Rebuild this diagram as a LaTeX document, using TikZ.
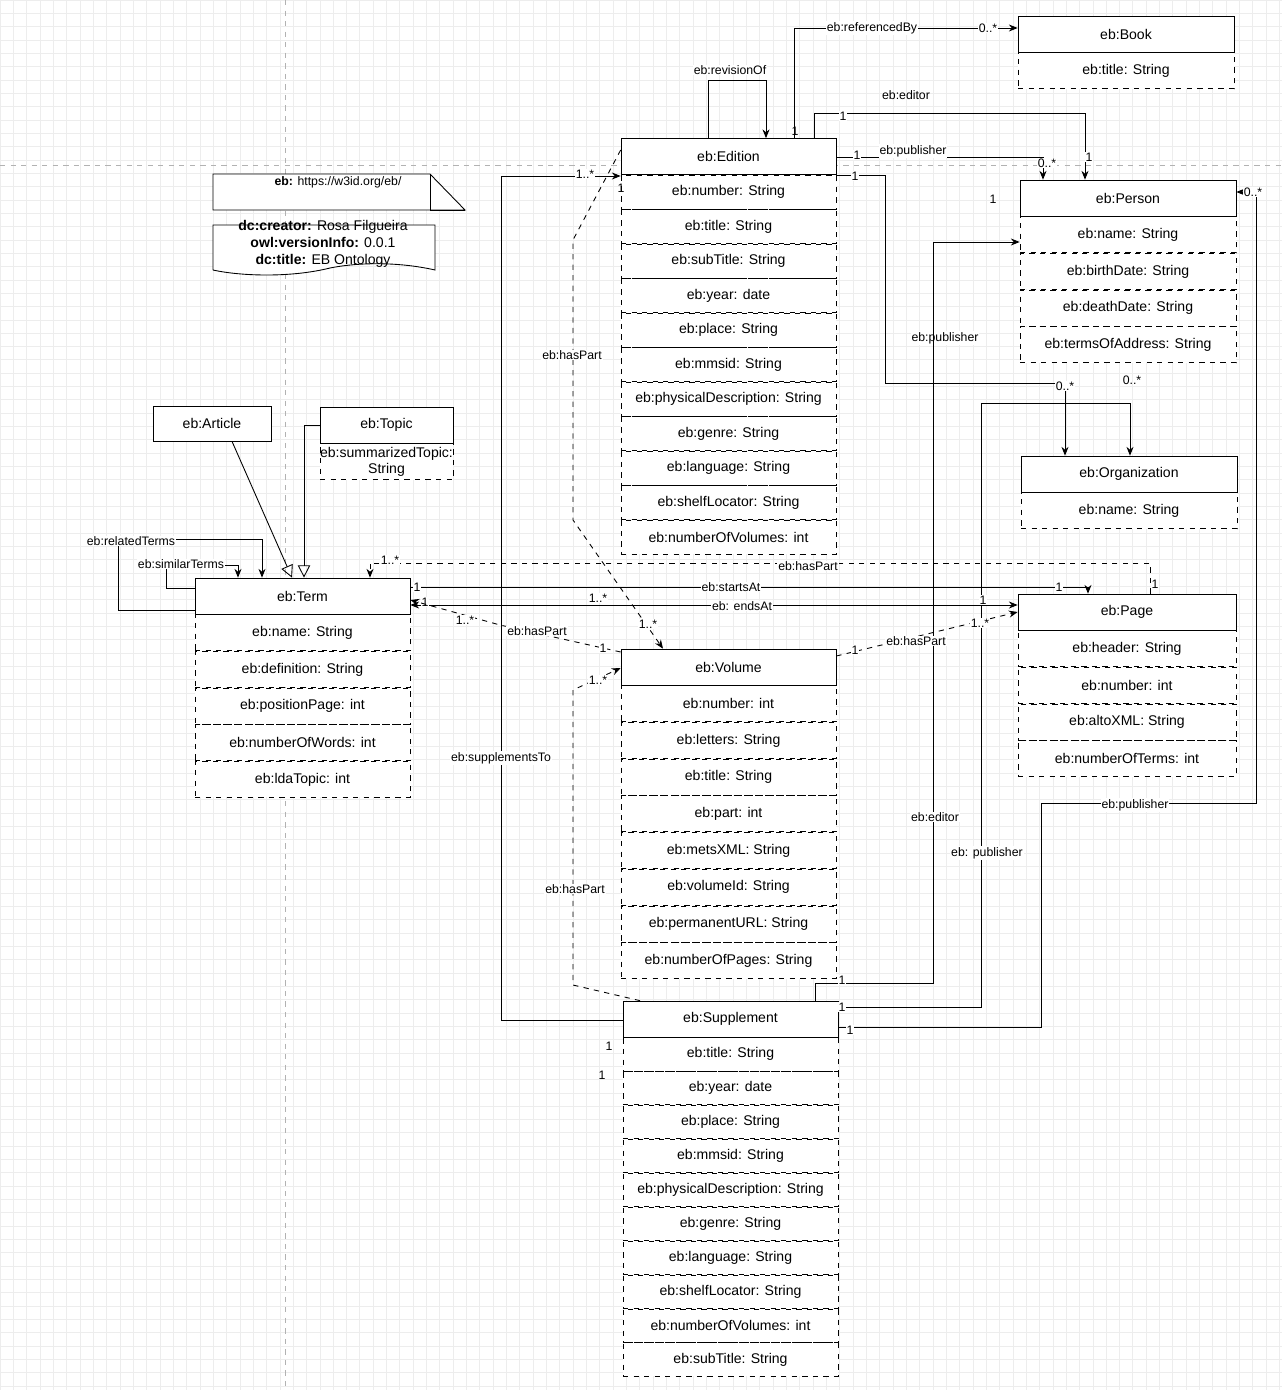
\documentclass[tikz,border=0pt]{standalone}
\usepackage{fontspec}
\setmainfont{Liberation Sans}
\usetikzlibrary{arrows.meta,positioning,calc}

\tikzset{
  cls/.style={draw, fill=white, inner sep=0pt, minimum height=0.72cm, font=\fontsize{8}{9}\selectfont},
  attr/.style={draw, dashed, fill=white, inner sep=0pt, font=\fontsize{8}{9}\selectfont},
  assoc/.style={-{Stealth[length=5pt,width=4pt]}, line width=0.5pt},
  part/.style={assoc, dashed},
  isa/.style={-{Triangle[open,length=7pt,width=7pt]}, line width=0.5pt},
  lbl/.style={fill=white, inner sep=0.5pt, font=\fontsize{7}{8}\selectfont},
}
% attribute rows stacked under a class header named #10
\newcommand\umlattrs[4]{%
  \foreach \a [count=\i, remember=\i as \p (initially 0)] in {#4}{%
    \node[attr, minimum width=#2, minimum height=#3, below=0pt of #1\p] (#1\i) {\a};}}

\begin{document}
\begin{tikzpicture}[x=0.02cm, y=-0.02cm]
  \useasboundingbox (0,0) rectangle (1282,1390);
  % background grid and page breaks
  \draw[gray!14, step=0.2666cm] (0,0) grid (1282,1390);
  \draw[gray!60, dashed] (285,0) -- (285,1390);
  \draw[gray!60, dashed] (0,165) -- (1282,165);

  % notes
  \draw[fill=white, line width=0.5pt] (213,174) -- (430,174) -- (465,210) -- (213,210) -- cycle;
  \draw[line width=0.5pt] (430,174) -- (430,210) -- (465,210);
  \node[lbl, fill=none] (ns) at (338,182) {\textbf{eb:} https://w3id.org/eb/};
  \draw[fill=white, line width=0.5pt] (213,270) -- (213,225) -- (435,225) -- (435,270)
     .. controls (400,262) and (360,262) .. (330,268) .. controls (290,278) and (240,276) .. (213,270);
  \node[lbl, fill=none, align=center, font=\fontsize{8}{9.5}\selectfont] (meta) at (323,244)
     {\textbf{dc:creator:} Rosa Filgueira\\\textbf{owl:versionInfo:} 0.0.1\\\textbf{dc:title:} EB Ontology};

  % classes
  \node[cls, minimum width=4.3cm] (ed0) at (728.5,156.5) {eb:Edition};
  \umlattrs{ed}{4.3cm}{0.676cm}{eb:number: String,eb:title: String,eb:subTitle: String,eb:year: date,eb:place: String,eb:mmsid: String,eb:physicalDescription: String,eb:genre: String,eb:language: String,eb:shelfLocator: String,eb:numberOfVolumes: int}
  \node[cls, minimum width=4.32cm] (bk0) at (1126,34) {eb:Book};
  \umlattrs{bk}{4.32cm}{0.72cm}{eb:title: String}
  \node[cls, minimum width=4.32cm] (pe0) at (1128,198) {eb:Person};
  \umlattrs{pe}{4.32cm}{0.72cm}{eb:name: String,eb:birthDate: String,eb:deathDate: String,eb:termsOfAddress: String}
  \node[cls, minimum width=4.32cm] (or0) at (1129,474) {eb:Organization};
  \umlattrs{or}{4.32cm}{0.72cm}{eb:name: String}
  \node[cls, minimum width=4.36cm] (pg0) at (1127,612) {eb:Page};
  \umlattrs{pg}{4.36cm}{0.72cm}{eb:header: String,eb:number: int,eb:altoXML: String,eb:numberOfTerms: int}
  \node[cls, minimum width=4.3cm] (tm0) at (302.5,596) {eb:Term};
  \umlattrs{tm}{4.3cm}{0.72cm}{eb:name: String,eb:definition: String,eb:positionPage: int,eb:numberOfWords: int,eb:ldaTopic: int}
  \node[cls, minimum width=4.3cm] (vo0) at (728.5,667) {eb:Volume};
  \umlattrs{vo}{4.3cm}{0.72cm}{eb:number: int,eb:letters: String,eb:title: String,eb:part: int,eb:metsXML: String,eb:volumeId: String,eb:permanentURL: String,eb:numberOfPages: String}
  \node[cls, minimum width=4.3cm] (su0) at (730.5,1019) {eb:Supplement};
  \umlattrs{su}{4.3cm}{0.664cm}{eb:title: String,eb:year: date,eb:place: String,eb:mmsid: String,eb:physicalDescription: String,eb:genre: String,eb:language: String,eb:shelfLocator: String,eb:numberOfVolumes: int,eb:subTitle: String}
  \node[cls, minimum width=2.36cm, minimum height=0.7cm] (ar0) at (212,423.5) {eb:Article};
  \node[cls, minimum width=2.66cm] (tp0) at (386.5,425) {eb:Topic};
  \node[attr, minimum width=2.66cm, minimum height=0.72cm, align=center, below=0pt of tp0,
        font=\fontsize{8}{9}\selectfont] (tp1) {eb:summarizedTopic:\\String};

  % Edition links
  \draw[assoc] (708,0 |- ed0.north) -- (708,80) -- (766,80) -- (766,0 |- ed0.north);
  \node[lbl] at (730,70) {eb:revisionOf};
  \draw[assoc] (794,0 |- ed0.north) |- (bk0.west |- 0,28);
  \node[lbl] at (872,28) {eb:referencedBy};
  \node[lbl] at (988,28) {0..*};
  \node[lbl, fill=none] at (795,131) {1};
  \draw[assoc] (814,0 |- ed0.north) |- (1085,113) -- (1085,0 |- pe0.north);
  \node[lbl, fill=none] at (906,95) {eb:editor};
  \node[lbl] at (843,116) {1};
  \node[lbl] at (1089,157) {1};
  \draw[assoc] (ed0.east |- 0,157) -| (1043,0 |- pe0.north);
  \node[lbl] at (857,155) {1};
  \node[lbl] at (913,151) {eb:publisher};
  \node[lbl] at (1047,163) {0..*};
  \draw[assoc] (ed0.east |- 0,175) -| (885,383) -| (1065,0 |- or0.north);
  \node[lbl] at (855,176) {1};
  \node[lbl] at (945,338) {eb:publisher};
  \node[lbl] at (1065,386) {0..*};
  \node[lbl, fill=none] at (993,199) {1};

  % Supplement links
  \draw[assoc] (su0.east |- 0,1027) -| (1041,803) -| (1256,192) -- (pe0.east |- 0,192);
  \node[lbl] at (1135,805) {eb:publisher};
  \node[lbl] at (1253,192) {0..*};
  \node[lbl] at (850,1030) {1};
  \draw[assoc] (815,0 |- su0.north) |- (933,983) |- (pe0.west |- 0,242);
  \node[lbl] at (935,817) {eb:editor};
  \node[lbl] at (842,980) {1};
  \draw[assoc] (su0.east |- 0,1007) -| (981,403) -| (1130,0 |- or0.north);
  \node[lbl] at (987,853) {eb: publisher};
  \node[lbl] at (842,1007) {1};
  \node[lbl, fill=none] at (1132,380) {0..*};
  \draw[assoc] (su0.west |- 0,1020) -| (501,176) -- (ed0.west |- 0,176);
  \node[lbl] at (501,758) {eb:supplementsTo};
  \node[lbl] at (585,174) {1..*};
  \node[lbl, fill=none] at (621,188) {1};
  \node[lbl, fill=none] at (609,1046) {1};
  \node[lbl, fill=none] at (602,1075) {1};

  % Term and Page links
  \draw[assoc] (tm0.east |- 0,587) -| (1088,0 |- pg0.north);
  \node[lbl] at (731,587) {eb:startsAt};
  \node[lbl] at (417,587) {1};
  \node[lbl] at (1059,587) {1};
  \draw[assoc, {Stealth[length=5pt,width=4pt]}-{Stealth[length=5pt,width=4pt]}] (tm0.east |- 0,605) -- (pg0.west |- 0,605);
  \node[lbl] at (742,606) {eb: endsAt};
  \node[lbl] at (598,598) {1..*};
  \node[lbl] at (983,600) {1};
  \node[lbl] at (425,602) {1};
  \draw[part] (1150,0 |- pg0.north) |- (370,563) -- (370,0 |- tm0.north);
  \node[lbl] at (808,566) {eb:hasPart};
  \node[lbl] at (390,560) {1..*};
  \node[lbl] at (1155,584) {1};

  % hasPart links
  \draw[part] (vo0.east |- 0,656) -- (pg0.west |- 0,612);
  \node[lbl] at (916,641) {eb:hasPart};
  \node[lbl] at (855,650) {1};
  \node[lbl] at (980,623) {1..*};
  \draw[part] (vo0.west |- 0,652) -- (500,625) -- (tm0.east |- 0,600);
  \node[lbl] at (537,631) {eb:hasPart};
  \node[lbl] at (603,648) {1};
  \node[lbl] at (465,620) {1..*};
  \draw[part] (ed0.west |- 0,150) -- (573,240) -- (573,520) -- (663,0 |- vo0.north);
  \node[lbl] at (572,355) {eb:hasPart};
  \node[lbl] at (648,624) {1..*};
  \draw[part] (640,0 |- su0.north) -- (573,985) -- (573,690) -- (vo0.west |- 0,668);
  \node[lbl] at (575,889) {eb:hasPart};
  \node[lbl] at (598,680) {1..*};

  % Term hierarchy and self links
  \draw[isa] (ar0.south -| 232,0) -- (292,0 |- tm0.north);
  \draw[isa] (tp0.west) -- (304,0 |- tp0.west) -- (304,0 |- tm0.north);
  \draw[assoc] (tm0.west |- 0,610) -| (118,539) -| (262,0 |- tm0.north);
  \node[lbl] at (131,541) {eb:relatedTerms};
  \draw[assoc] (tm0.west |- 0,588) -| (166,565) -| (238,0 |- tm0.north);
  \node[lbl] at (181,564) {eb:similarTerms};
\end{tikzpicture}
\end{document}
